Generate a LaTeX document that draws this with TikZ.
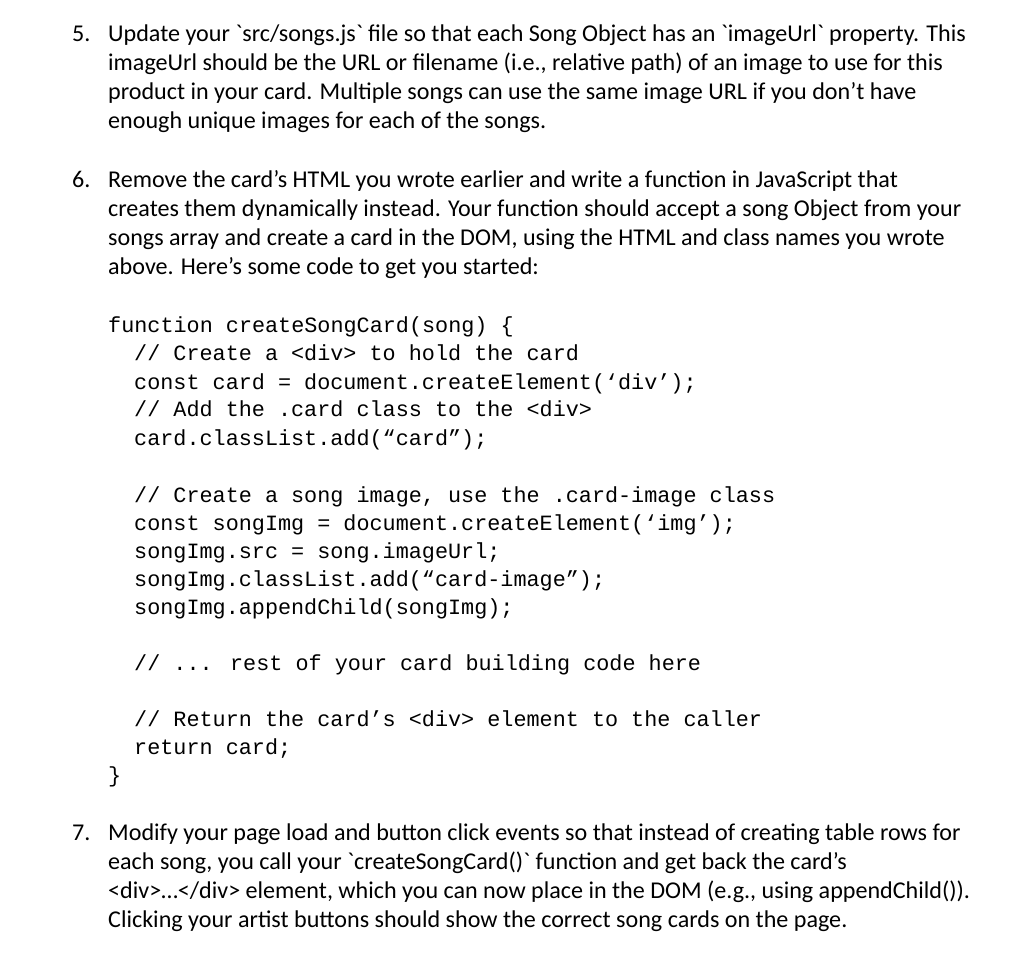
\documentclass[tikz,border=0pt]{standalone}
\usepackage{fontspec}
\setmainfont{Carlito}[Ligatures=TeXOff]
\newfontfamily\codefont{Liberation Mono}[Ligatures=TeXOff]
\begin{document}
\begin{tikzpicture}[x=1pt,y=-1pt,
  txt/.style={anchor=base west,inner sep=0pt,font=\fontsize{24.1}{28}\selectfont},
  code/.style={anchor=base west,inner sep=0pt,font=\codefont\fontsize{21.8}{25}\selectfont}]
\useasboundingbox[fill=white] (0,0) rectangle (1036,973);
\node[txt] (n5) at (72,42) {5.};
\node[txt] (a1) at (108,42) {Update your `src/songs.js` file so that each Song Object has an `imageUrl` property.  This};
\node[txt] (a2) at (108,71) {imageUrl should be the URL or filename (i.e., relative path) of an image to use for this};
\node[txt] (a3) at (108,100) {product in your card.  Multiple songs can use the same image URL if you don’t have};
\node[txt] (a4) at (108,129) {enough unique images for each of the songs.};
\node[txt] (n6) at (72,188) {6.};
\node[txt] (b1) at (108,188) {Remove the card’s HTML you wrote earlier and write a function in JavaScript that};
\node[txt] (b2) at (108,217) {creates them dynamically instead.  Your function should accept a song Object from your};
\node[txt] (b3) at (108,246) {songs array and create a card in the DOM, using the HTML and class names you wrote};
\node[txt] (b4) at (108,275) {above.  Here’s some code to get you started:};
\node[code] (c1) at (108,333) {function createSongCard(song) \{};
\node[code] (c2) at (134,361) {// Create a <div> to hold the card};
\node[code] (c3) at (134,389) {const card = document.createElement(‘div’);};
\node[code] (c4) at (134,417) {// Add the .card class to the <div>};
\node[code] (c5) at (134,445) {card.classList.add(“card”);};
\node[code] (c6) at (134,502) {// Create a song image, use the .card-image class};
\node[code] (c7) at (134,530) {const songImg = document.createElement(‘img’);};
\node[code] (c8) at (134,558) {songImg.src = song.imageUrl;};
\node[code] (c9) at (134,586) {songImg.classList.add(“card-image”);};
\node[code] (c10) at (134,614) {songImg.appendChild(songImg);};
\node[code] (c11) at (134,670) {// ... rest of your card building code here};
\node[code] (c12) at (134,726) {// Return the card’s <div> element to the caller};
\node[code] (c13) at (134,754) {return card;};
\node[code] (c14) at (108,782) {\}};
\node[txt] (n7) at (72,840) {7.};
\node[txt] (d1) at (108,840) {Modify your page load and button click events so that instead of creating table rows for};
\node[txt] (d2) at (108,869) {each song, you call your `createSongCard()` function and get back the card’s};
\node[txt] (d3) at (108,898) {<div>…</div> element, which you can now place in the DOM (e.g., using appendChild()).};
\node[txt] (d4) at (108,927) {Clicking your artist buttons should show the correct song cards on the page.};
\end{tikzpicture}
\end{document}
